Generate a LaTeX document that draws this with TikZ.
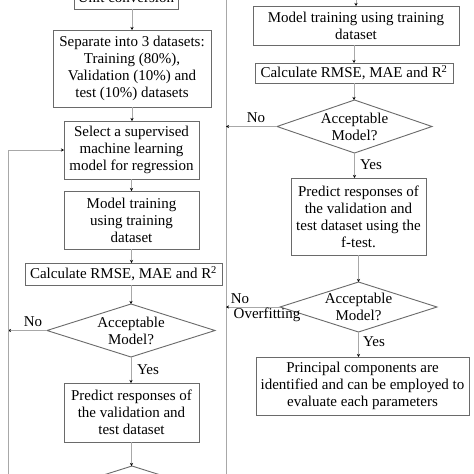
\documentclass[tikz,border=0pt]{standalone}
\usepackage{fontspec}
\setmainfont{Liberation Serif}
\usetikzlibrary{shapes.geometric,arrows.meta}
\definecolor{boxc}{HTML}{6A6A6A}
\definecolor{linec}{HTML}{A8A8A8}
\tikzset{
 box/.style={draw=boxc, line width=0.9pt, inner sep=0pt, outer sep=0pt, align=center, font=\fontsize{15}{17}\selectfont, text=black},
 dia/.style={draw=boxc, line width=0.9pt, diamond, inner sep=0pt, outer sep=0pt},
 dtext/.style={align=center, font=\fontsize{15}{17}\selectfont, inner sep=0pt},
 lbl/.style={font=\fontsize{15}{17}\selectfont, inner sep=0pt},
 arr/.style={draw=linec, line width=0.8pt, -{Stealth[length=3pt,width=3pt,color=black]}},
}
\begin{document}
\begin{tikzpicture}[x=1pt,y=-1pt]
\useasboundingbox (0,0) rectangle (474,474);
\clip (0,0) rectangle (474,474);
\fill[white] (0,0) rectangle (474,474);
% left column
\node[box, minimum width=104pt, minimum height=22pt] (unit) at (126,-2) {Unit conversion};
\node[box, minimum width=158pt, minimum height=77pt] (sep) at (132,68.5) {Separate into 3 datasets:\\Training (80\%),\\Validation (10\%) and\\test (10\%) datasets};
\node[box, minimum width=135pt, minimum height=58pt] (sel) at (131.5,150) {Select a supervised\\machine learning\\model for regression};
\node[box, minimum width=135pt, minimum height=58pt] (mtl) at (131.5,220) {Model training\\using training\\dataset};
\node[box, minimum width=197pt, minimum height=22pt] (calcl) at (123.5,274) {Calculate RMSE, MAE and R\textsuperscript{2}};
\node[dia, minimum width=168pt, minimum height=53pt] (dl1) at (131,330.5) {};
\node[dtext] (dl1t) at (dl1.center) {Acceptable\\Model?};
\node[box, minimum width=135pt, minimum height=59pt] (pl) at (131.5,412.5) {Predict responses of\\the validation and\\test dataset};
\node[dia, minimum width=168pt, minimum height=53pt, anchor=north] (dl2) at (132,466) {};
% right column
\node[box, minimum width=206pt, minimum height=39pt] (mtr) at (356,25.5) {Model training using training\\dataset};
\node[box, minimum width=198pt, minimum height=20pt] (calcr) at (354,73) {Calculate RMSE, MAE and R\textsuperscript{2}};
\node[dia, minimum width=155pt, minimum height=53pt] (dr1) at (354.5,126.5) {};
\node[dtext] (dr1t) at (dr1.center) {Acceptable\\Model?};
\node[box, minimum width=135pt, minimum height=77pt] (pr) at (358.5,216.5) {Predict responses of\\the validation and\\test dataset using the\\f-test.};
\node[dia, minimum width=157pt, minimum height=50pt] (dr2) at (358.5,307) {};
\node[dtext] (dr2t) at (dr2.center) {Acceptable\\Model?};
\node[box, minimum width=213pt, minimum height=58pt] (prin) at (362.5,386) {Principal components are\\identified and can be employed to\\evaluate each parameters};
% coordinates
\coordinate (lx1) at (8,330.5);
\coordinate (lbot) at (8,520);
\coordinate (rbot) at (226,520);
\coordinate (rtop) at (226,-30);
\coordinate (rx1) at (226,126.5);
\coordinate (rx2) at (226,307);
% connectors left
\draw[arr] (sep.north |- unit.south) -- (sep.north);
\draw[arr] (sep.south) -- (sep.south |- sel.north);
\draw[arr] (sel.south) -- (sel.south |- mtl.north);
\draw[arr] (mtl.south) -- (mtl.south |- calcl.north);
\draw[arr] (dl1.north |- calcl.south) -- (dl1.north);
\draw[arr] (dl1.south) -- (dl1.south |- pl.north);
\draw[arr] (pl.south) -- (pl.south |- dl2.north);
\draw[arr] (dl1.west) -- (lx1);
\draw[arr] (lbot) |- (sel.west);
% connectors right
\draw[arr] (rbot) -- (rtop) -| (mtr.north);
\draw[arr] (calcr.north |- mtr.south) -- (calcr.north);
\draw[arr] (calcr.south) -- (calcr.south |- dr1.north);
\draw[arr] (dr1.south) -- (dr1.south |- pr.north);
\draw[arr] (pr.south) -- (pr.south |- dr2.north);
\draw[arr] (dr2.south) -- (dr2.south |- prin.north);
\draw[arr] (dr1.west) -- (rx1);
\draw[arr] (dr2.west) -- (rx2);
% labels
\node[lbl] (nol) at (33,322) {No};
\node[lbl] (yesl) at (148,370) {Yes};
\node[lbl] (nor1) at (256,118) {No};
\node[lbl] (yesr1) at (371,165) {Yes};
\node[lbl] (nor2) at (240,299) {No};
\node[lbl] (ovr2) at (267,315) {Overfitting};
\node[lbl] (yesr2) at (374,342) {Yes};
\end{tikzpicture}
\end{document}
